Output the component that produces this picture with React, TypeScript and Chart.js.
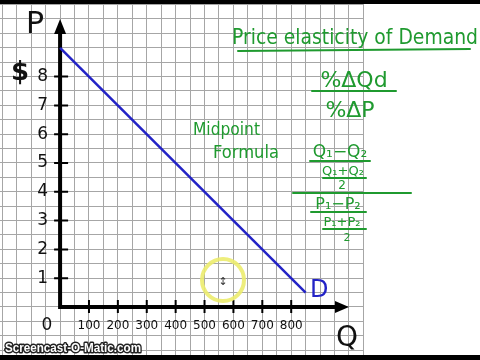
import React, { useEffect, useRef } from "react";
import { Chart, registerables } from "chart.js";

Chart.register(...registerables);

// ---- data ----
const quantity = [0, 850];
const price = [9, 0.5];
const qTicks = [100, 200, 300, 400, 500, 600, 700, 800];
const pTicks = [1, 2, 3, 4, 5, 6, 7, 8];
const curveLabel = "D";
const titleText = "Price elasticity of Demand";

// ---- scale ranges (grid paper) ----
const X_MIN = -208;
const X_MAX = 1052;
const Y_MIN = -1.667;
const Y_MAX = 10.52;
const X_GRID = 50;
const Y_GRID = 0.5;
const X_ARROW = 1000;
const Y_ARROW = 10;
const Y_LABEL_ANCHOR = -42; // quantity value where price labels end

const GREEN = "#1f9a2f";
const BLUE = "#2323c6";
const FONT = "'DejaVu Sans', sans-serif";

function gridTicks(min: number, max: number, step: number) {
  const t: { value: number }[] = [];
  for (let v = Math.ceil(min / step) * step; v <= max + 1e-9; v += step) {
    t.push({ value: Math.round(v * 1000) / 1000 });
  }
  return t;
}

function zeroPadding(s: any) {
  s.paddingTop = 0;
  s.paddingBottom = 0;
  s.paddingLeft = 0;
  s.paddingRight = 0;
}

function text(
  ctx: CanvasRenderingContext2D,
  s: string,
  x: number,
  y: number,
  size: number,
  color: string,
  align: CanvasTextAlign = "left",
  maxW?: number,
  weight = "normal"
) {
  ctx.font = `${weight} ${size}px ${FONT}`;
  ctx.fillStyle = color;
  ctx.textAlign = align;
  ctx.textBaseline = "alphabetic";
  if (maxW) ctx.fillText(s, x, y, maxW);
  else ctx.fillText(s, x, y);
}

function bar(ctx: CanvasRenderingContext2D, x1: number, y1: number, x2: number, y2: number, color: string, w = 2) {
  ctx.strokeStyle = color;
  ctx.lineWidth = w;
  ctx.lineCap = "round";
  ctx.beginPath();
  ctx.moveTo(x1, y1);
  ctx.lineTo(x2, y2);
  ctx.stroke();
}

const decor = {
  id: "decor",
  beforeDraw(chart: any) {
    const { ctx, width, height } = chart;
    ctx.save();
    ctx.fillStyle = "#ffffff";
    ctx.fillRect(0, 0, width, height);
    ctx.fillStyle = "#000000";
    ctx.fillRect(0, 0, width, 4);
    ctx.fillRect(0, 355, width, height - 355);
    ctx.restore();
  },
  beforeDatasetsDraw(chart: any) {
    const { ctx } = chart;
    const xs = chart.scales.x;
    const ys = chart.scales.y;
    const x0 = xs.getPixelForValue(0);
    const y0 = ys.getPixelForValue(0);
    const xTip = xs.getPixelForValue(X_ARROW);
    const yTip = ys.getPixelForValue(Y_ARROW);
    ctx.save();
    ctx.strokeStyle = "#000";
    ctx.fillStyle = "#000";
    ctx.lineWidth = 4;
    ctx.lineCap = "butt";
    // axes
    ctx.beginPath();
    ctx.moveTo(x0, y0 + 2);
    ctx.lineTo(x0, yTip + 12);
    ctx.moveTo(x0 - 2, y0);
    ctx.lineTo(xTip - 12, y0);
    ctx.stroke();
    // arrow heads
    ctx.beginPath();
    ctx.moveTo(x0, yTip);
    ctx.lineTo(x0 - 6, yTip + 15);
    ctx.lineTo(x0 + 6, yTip + 15);
    ctx.closePath();
    ctx.fill();
    ctx.beginPath();
    ctx.moveTo(xTip, y0);
    ctx.lineTo(xTip - 14, y0 - 6);
    ctx.lineTo(xTip - 14, y0 + 6);
    ctx.closePath();
    ctx.fill();
    // tick marks
    ctx.lineWidth = 2;
    const xa = chart.scales.xAxis;
    const ya = chart.scales.yAxis;
    ctx.beginPath();
    xa.ticks.forEach((t: any) => {
      const px = xa.getPixelForValue(t.value);
      ctx.moveTo(px, y0 - 7);
      ctx.lineTo(px, y0 + 6);
    });
    ya.ticks.forEach((t: any) => {
      const py = ya.getPixelForValue(t.value);
      ctx.moveTo(x0 - 6, py);
      ctx.lineTo(x0 + 8, py);
    });
    ctx.stroke();
    ctx.restore();
  },
  afterDraw(chart: any) {
    const { ctx } = chart;
    ctx.save();
    // axis letters
    text(ctx, "P", 35, 33, 30, "#111", "center");
    text(ctx, "$", 20, 80, 26, "#111", "center", undefined, "bold");
    text(ctx, "Q", 347, 346, 28, "#111", "center");
    text(ctx, "0", 47, 330, 17, "#111", "center");
    // curve label
    text(ctx, curveLabel, 310, 297, 24, BLUE, "left");
    // title
    text(ctx, titleText, 232, 44, 21, GREEN, "left", 246);
    bar(ctx, 238, 51, 470, 49, GREEN);
    // % change formula
    text(ctx, "%ΔQd", 354, 87, 22, GREEN, "center", 80);
    bar(ctx, 312, 91, 396, 91, GREEN);
    text(ctx, "%ΔP", 350, 117, 22, GREEN, "center", 62);
    // midpoint formula
    text(ctx, "Midpoint", 193, 135, 18, GREEN, "left", 67);
    text(ctx, "Formula", 213, 158, 18, GREEN, "left", 66);
    text(ctx, "Q₁−Q₂", 340, 157, 17, GREEN, "center", 63);
    bar(ctx, 310, 161, 370, 161, GREEN);
    text(ctx, "Q₁+Q₂", 343, 175, 13, GREEN, "center", 50);
    bar(ctx, 323, 178, 366, 178, GREEN);
    text(ctx, "2", 342, 189, 12, GREEN, "center");
    bar(ctx, 293, 193, 411, 193, GREEN);
    text(ctx, "P₁−P₂", 338, 209, 16, GREEN, "center", 47);
    bar(ctx, 311, 212, 366, 212, GREEN);
    text(ctx, "P₁+P₂", 342, 226, 13, GREEN, "center", 48);
    bar(ctx, 323, 229, 366, 229, GREEN);
    text(ctx, "2", 347, 241, 11, GREEN, "center");
    // cursor highlight
    ctx.strokeStyle = "rgba(236,236,110,0.9)";
    ctx.lineWidth = 4;
    ctx.beginPath();
    ctx.arc(223, 280, 21, 0, Math.PI * 2);
    ctx.stroke();
    text(ctx, "↕", 223, 285, 11, "#333", "center");
    // watermark
    ctx.font = `bold 13px 'Liberation Sans', sans-serif`;
    ctx.textAlign = "left";
    ctx.lineWidth = 3;
    ctx.lineJoin = "round";
    ctx.strokeStyle = "#222";
    ctx.strokeText("Screencast-O-Matic.com", 5, 352, 136);
    ctx.fillStyle = "#fff";
    ctx.fillText("Screencast-O-Matic.com", 5, 352, 136);
    ctx.restore();
  },
};

export default function App() {
  const ref = useRef<HTMLCanvasElement | null>(null);
  useEffect(() => {
    if (!ref.current) return;
    const chart = new Chart(ref.current, {
      type: "line",
      data: {
        datasets: [
          {
            label: curveLabel,
            data: quantity.map((q, i) => ({ x: q, y: price[i] })),
            borderColor: BLUE,
            borderWidth: 2.5,
            pointRadius: 0,
            fill: false,
            tension: 0,
          },
        ],
      },
      options: {
        animation: false,
        responsive: false,
        layout: { padding: { left: 0, top: 4, right: 116, bottom: 5 } },
        plugins: { legend: { display: false }, tooltip: { enabled: false } },
        scales: {
          x: {
            type: "linear",
            position: "bottom",
            min: X_MIN,
            max: X_MAX,
            afterBuildTicks: (s: any) => {
              s.ticks = gridTicks(X_MIN, X_MAX, X_GRID);
            },
            afterFit: zeroPadding,
            ticks: { display: false },
            grid: { color: "#a6a6a6", lineWidth: 1, drawTicks: false },
            border: { display: false },
          },
          y: {
            type: "linear",
            position: "left",
            min: Y_MIN,
            max: Y_MAX,
            afterBuildTicks: (s: any) => {
              s.ticks = gridTicks(Y_MIN, Y_MAX, Y_GRID);
            },
            afterFit: zeroPadding,
            ticks: { display: false },
            grid: { color: "#a6a6a6", lineWidth: 1, drawTicks: false },
            border: { display: false },
          },
          xAxis: {
            type: "linear",
            axis: "x",
            position: { y: 0 },
            min: X_MIN,
            max: X_MAX,
            afterBuildTicks: (s: any) => {
              s.ticks = qTicks.map((v) => ({ value: v }));
            },
            afterFit: zeroPadding,
            ticks: { color: "#111", font: { family: FONT, size: 12 }, padding: 12, maxRotation: 0, autoSkip: false },
            grid: { display: false, drawTicks: false },
            border: { display: false },
          },
          yAxis: {
            type: "linear",
            axis: "y",
            position: { x: Y_LABEL_ANCHOR },
            min: Y_MIN,
            max: Y_MAX,
            afterBuildTicks: (s: any) => {
              s.ticks = pTicks.map((v) => ({ value: v }));
            },
            afterFit: zeroPadding,
            ticks: { color: "#111", font: { family: FONT, size: 17 }, padding: 0, autoSkip: false },
            grid: { display: false, drawTicks: false },
            border: { display: false },
          },
        },
      } as any,
      plugins: [decor],
    });
    return () => chart.destroy();
  }, []);
  return (
    <div style={{ position: "absolute", left: 0, top: 0, width: 480, height: 360 }}>
      <canvas ref={ref} width={480} height={360} style={{ display: "block" }} />
    </div>
  );
}
